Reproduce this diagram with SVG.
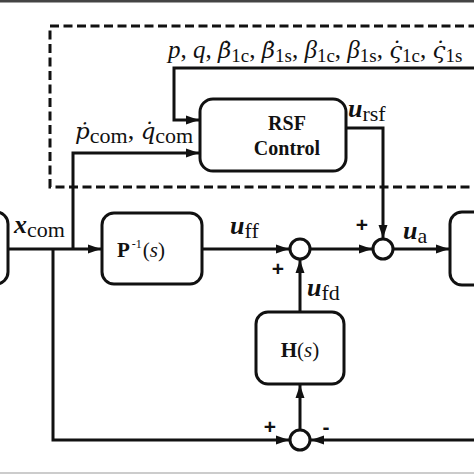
<svg xmlns="http://www.w3.org/2000/svg" width="474" height="474" viewBox="0 0 474 474">
<defs>
<marker id="ah" markerUnits="userSpaceOnUse" markerWidth="14" markerHeight="10" refX="13" refY="5" orient="auto">
<path d="M0,0.5 L13,5 L0,9.5 z" fill="#111"/>
</marker>
<style>
.blk{fill:#fff;stroke:#111;stroke-width:3}
.sum{fill:#fff;stroke:#111;stroke-width:3}
.ln{fill:none;stroke:#111;stroke-width:3}
.dash{fill:none;stroke:#111;stroke-width:3;stroke-dasharray:9 4.5}
.m{font-family:"Liberation Serif","DejaVu Serif",serif;fill:#111}
.it{font-style:italic}
.dv{font-family:"DejaVu Serif",serif;font-style:italic}
.bi{font-style:italic;font-weight:bold}
.b{font-weight:bold}
.sg{font-family:"Liberation Sans",Arial,sans-serif;font-weight:bold;font-size:21px;fill:#111}
</style>
</defs>
<rect x="0" y="0" width="474" height="474" fill="#fff"/>
<rect x="0" y="0" width="474" height="2.5" fill="#444"/>
<rect x="0" y="472" width="474" height="2" fill="#ccc"/>

<rect class="dash" x="50" y="26" width="460" height="161"/>

<g id="connectors">
<path class="ln" d="M474,68 H174 V120 H199" marker-end="url(#ah)"/>
<path class="ln" d="M73,249 V153 H199" marker-end="url(#ah)"/>
<path class="ln" d="M8,249 H101" marker-end="url(#ah)"/>
<path class="ln" d="M202,249 H289" marker-end="url(#ah)"/>
<path class="ln" d="M310,249 H372" marker-end="url(#ah)"/>
<path class="ln" d="M393,249 H449" marker-end="url(#ah)"/>
<path class="ln" d="M346,128 H383 V238" marker-end="url(#ah)"/>
<path class="ln" d="M300,312 V260" marker-end="url(#ah)"/>
<path class="ln" d="M53,249 V440 H289" marker-end="url(#ah)"/>
<path class="ln" d="M476,440 H311" marker-end="url(#ah)"/>
<path class="ln" d="M300,430 V385" marker-end="url(#ah)"/>
</g>

<g id="plant-left"><rect class="blk" x="-90" y="212" width="98" height="72" rx="12"/></g>
<g id="plant-right"><rect class="blk" x="450" y="212" width="100" height="73" rx="12"/></g>

<g id="rsf">
<rect class="blk" x="200" y="99" width="146" height="72" rx="13"/>
<text class="m b" x="287" y="130" font-size="20" text-anchor="middle">RSF</text>
<text class="m b" x="287" y="155" font-size="20" text-anchor="middle">Control</text>
</g>

<g id="pinv">
<rect class="blk" x="102" y="213" width="100" height="71" rx="12"/>
<text class="m" x="117" y="257" font-size="21"><tspan class="b">P</tspan><tspan font-size="12" dy="-9" dx="2">-1</tspan><tspan dy="9" dx="1">(</tspan><tspan class="it">s</tspan>)</text>
</g>

<g id="hs">
<rect class="blk" x="256" y="312" width="88" height="72" rx="12"/>
<text class="m" x="300" y="357" font-size="21" text-anchor="middle"><tspan class="b">H</tspan>(<tspan class="it">s</tspan>)</text>
</g>

<g id="sum1"><circle class="sum" cx="300" cy="249" r="10"/></g>
<g id="sum2"><circle class="sum" cx="383" cy="249" r="10"/></g>
<g id="sum3"><circle class="sum" cx="300" cy="440" r="10"/></g>

<g id="labels">
<text class="m" x="168" y="58" font-size="25"><tspan class="it">p</tspan>, <tspan class="it">q</tspan>, <tspan class="dv" font-size="23">β̇</tspan><tspan font-size="19" dy="4">1c</tspan><tspan dy="-4">, </tspan><tspan class="dv" font-size="23">β̇</tspan><tspan font-size="19" dy="4">1s</tspan><tspan dy="-4">, </tspan><tspan class="it">β</tspan><tspan font-size="19" dy="4">1c</tspan><tspan dy="-4">, </tspan><tspan class="it">β</tspan><tspan font-size="19" dy="4">1s</tspan><tspan dy="-4">, </tspan><tspan class="dv" font-size="23">ς̇</tspan><tspan font-size="19" dy="4">1c</tspan><tspan dy="-4">, </tspan><tspan class="dv" font-size="23">ς̇</tspan><tspan font-size="19" dy="4">1s</tspan></text>
<text class="m" x="75" y="139" font-size="26"><tspan class="dv" font-size="23">ṗ</tspan><tspan font-size="22" dy="4">com</tspan><tspan dy="-4">, </tspan><tspan class="dv" font-size="23">q̇</tspan><tspan font-size="22" dy="4">com</tspan></text>
<text class="m" x="14" y="233" font-size="26"><tspan class="bi">x</tspan><tspan font-size="22" dy="4">com</tspan></text>
<text class="m" x="230" y="234" font-size="26"><tspan class="bi">u</tspan><tspan font-size="22" dy="4">ff</tspan></text>
<text class="m" x="348" y="117" font-size="26"><tspan class="bi">u</tspan><tspan font-size="22" dy="4">rsf</tspan></text>
<text class="m" x="403" y="239" font-size="26"><tspan class="bi">u</tspan><tspan font-size="22" dy="4">a</tspan></text>
<text class="m" x="307" y="296" font-size="26"><tspan class="bi">u</tspan><tspan font-size="22" dy="4">fd</tspan></text>
<text class="sg" x="362" y="232" text-anchor="middle">+</text>
<text class="sg" x="278" y="276" text-anchor="middle">+</text>
<text class="sg" x="270" y="434" text-anchor="middle">+</text>
<text class="sg" x="326" y="434" text-anchor="middle">-</text>
</g>
</svg>
